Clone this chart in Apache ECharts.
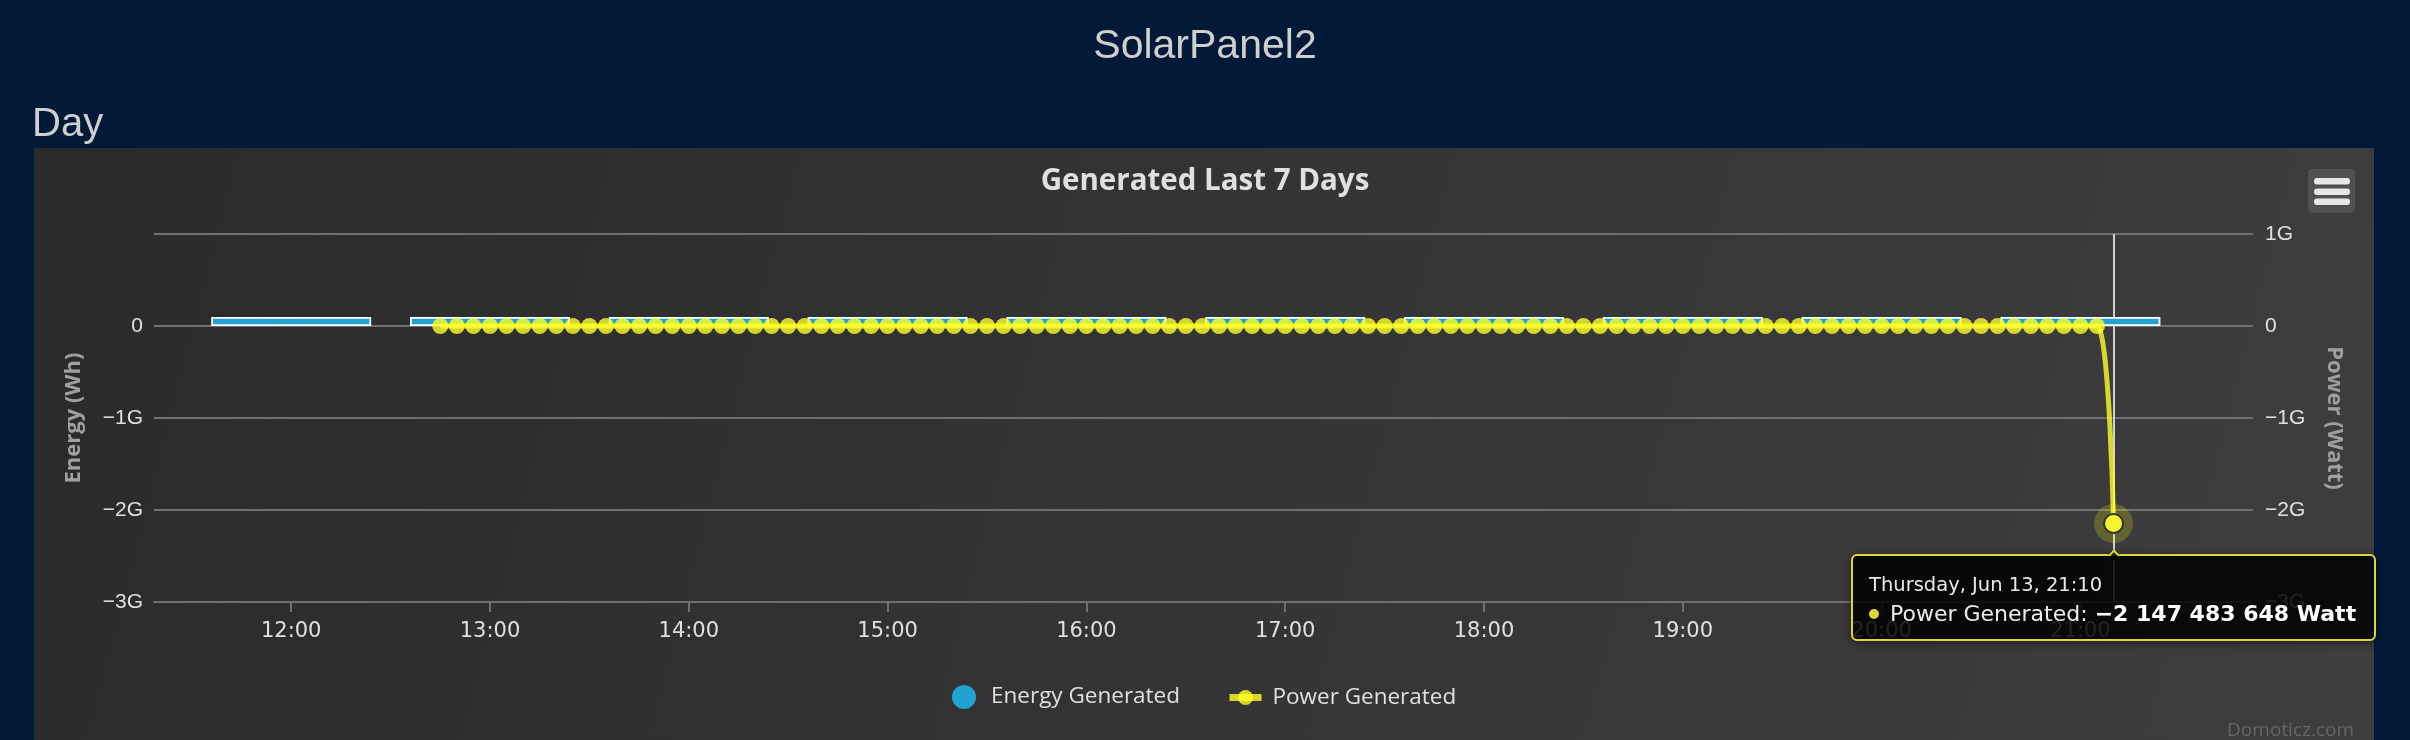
<!DOCTYPE html>
<html>
<head>
<meta charset="utf-8">
<script src="https://cdn.jsdelivr.net/npm/echarts@6/dist/echarts.min.js"></script>
<style>
html,body{margin:0;padding:0;background:#021a38;overflow:hidden;}
#c{width:2410px;height:740px;}
</style>
</head>
<body>
<div id="c"></div>
<script>
// ---------- data ----------
const DAY = [2024, 5, 13]; // Thursday, Jun 13 (2024)
const energyHours = ['12:00','13:00','14:00','15:00','16:00','17:00','18:00','19:00','20:00','21:00'];
const energyValues = [0, 0, 0, 0, 0, 0, 0, 0, 0, 0];

const powerTimes = [
  '12:45','12:50','12:55',
  '13:00','13:05','13:10','13:15','13:20','13:25','13:30','13:35','13:40','13:45','13:50','13:55',
  '14:00','14:05','14:10','14:15','14:20','14:25','14:30','14:35','14:40','14:45','14:50','14:55',
  '15:00','15:05','15:10','15:15','15:20','15:25','15:30','15:35','15:40','15:45','15:50','15:55',
  '16:00','16:05','16:10','16:15','16:20','16:25','16:30','16:35','16:40','16:45','16:50','16:55',
  '17:00','17:05','17:10','17:15','17:20','17:25','17:30','17:35','17:40','17:45','17:50','17:55',
  '18:00','18:05','18:10','18:15','18:20','18:25','18:30','18:35','18:40','18:45','18:50','18:55',
  '19:00','19:05','19:10','19:15','19:20','19:25','19:30','19:35','19:40','19:45','19:50','19:55',
  '20:00','20:05','20:10','20:15','20:20','20:25','20:30','20:35','20:40','20:45','20:50','20:55',
  '21:00','21:05','21:10'
];
const powerValues = [
  0,0,0,
  0,0,0,0,0,0,0,0,0,0,0,0,
  0,0,0,0,0,0,0,0,0,0,0,0,
  0,0,0,0,0,0,0,0,0,0,0,0,
  0,0,0,0,0,0,0,0,0,0,0,0,
  0,0,0,0,0,0,0,0,0,0,0,0,
  0,0,0,0,0,0,0,0,0,0,0,0,
  0,0,0,0,0,0,0,0,0,0,0,0,
  0,0,0,0,0,0,0,0,0,0,0,0,
  0,0,-2147483648
];
const xRange = ['11:18:36', '21:52:05'];
const yRange = [-3e9, 1e9];
const yStep = 1e9;
const hoverIndex = powerValues.length - 1;

// ---------- helpers ----------
function toTime(s) {
  const p = s.split(':').map(Number);
  return new Date(DAY[0], DAY[1], DAY[2], p[0], p[1], p[2] || 0).getTime();
}
function fmtG(v) {
  if (v === 0) return '0';
  const g = v / 1e9;
  return (g < 0 ? '\u2212' : '') + Math.abs(g) + 'G';
}
function fmtNum(v) {
  const s = Math.abs(v).toString().replace(/\B(?=(\d{3})+(?!\d))/g, ' ');
  return (v < 0 ? '\u2212' : '') + s;
}
const WEEK = ['Sunday','Monday','Tuesday','Wednesday','Thursday','Friday','Saturday'];
const MON = ['Jan','Feb','Mar','Apr','May','Jun','Jul','Aug','Sep','Oct','Nov','Dec'];

const YELLOW = 'rgba(255,255,40,0.8)';
const BLUE = '#22a1d3';

const chart = echarts.init(document.getElementById('c'), null, {renderer: 'canvas'});

const lineData = powerTimes.map(function (t, i) {
  const item = {value: [toTime(t), powerValues[i]]};
  if (i === hoverIndex) {
    item.symbolSize = 19;
    item.itemStyle = {color: '#f4f432', borderColor: '#333333', borderWidth: 2, opacity: 1};
  }
  return item;
});

const option = {
  animation: false,
  backgroundColor: '#021a38',
  title: [
    {text: 'SolarPanel2', left: 'center', top: 26, padding: 0,
     textStyle: {fontFamily: 'Liberation Sans', fontSize: 41, fontWeight: 'normal', color: '#cfcfcf'}},
    {text: 'Day', left: 32, top: 105, padding: 0,
     textStyle: {fontFamily: 'Liberation Sans', fontSize: 40, fontWeight: 'normal', color: '#cfcfcf'}},
    {text: 'Generated Last 7 Days', left: 'center', top: 167, padding: 0,
     textStyle: {fontFamily: 'Open Sans', fontSize: 29.5, fontWeight: 'bold', color: '#e0e0e3'}},
    {text: 'Domoticz.com', right: 56, top: 721, padding: 0,
     textStyle: {fontFamily: 'Open Sans', fontSize: 19, fontWeight: 'normal', color: '#666666'}}
  ],
  graphic: [
    {type: 'rect', z: -100, silent: true,
     shape: {x: 34, y: 148, width: 2340, height: 600},
     style: {fill: new echarts.graphic.LinearGradient(0, 0, 1, 1, [
       {offset: 0, color: '#2a2a2b'}, {offset: 1, color: '#3e3e40'}])}},
    {type: 'rect', silent: true, shape: {x: 2308, y: 169, width: 47, height: 44, r: 4}, style: {fill: '#505053'}},
    {type: 'rect', silent: true, shape: {x: 2314, y: 178, width: 36, height: 6.5, r: 3}, style: {fill: '#e6e6e6'}},
    {type: 'rect', silent: true, shape: {x: 2314, y: 188.5, width: 36, height: 6.5, r: 3}, style: {fill: '#e6e6e6'}},
    {type: 'rect', silent: true, shape: {x: 2314, y: 198.5, width: 36, height: 6.5, r: 3}, style: {fill: '#e6e6e6'}}
  ],
  legend: [
    {data: [{name: 'Energy Generated', icon: 'circle'}], left: 952, top: 685, padding: 0,
     itemWidth: 32, itemHeight: 24, selectedMode: false,
     itemStyle: {color: BLUE, borderWidth: 0},
     textStyle: {fontFamily: 'Open Sans', fontSize: 22.5, color: '#e0e0e3', padding: [0, 0, 0, 6]}},
    {data: ['Power Generated'], left: 1226, top: 686, padding: 0,
     itemWidth: 32, itemHeight: 19, selectedMode: false,
     lineStyle: {width: 7},
     textStyle: {fontFamily: 'Open Sans', fontSize: 22.5, color: '#e0e0e3', padding: [0, 0, 0, 6]}}
  ],
  grid: {left: 154, right: 157, top: 234, bottom: 138, outerBoundsMode: 'none', containLabel: false},
  tooltip: {
    trigger: 'item',
    triggerOn: 'none',
    alwaysShowContent: true,
    showDelay: 0,
    transitionDuration: 0,
    position: 'bottom',
    confine: false,
    backgroundColor: 'rgba(0,0,0,0.85)',
    borderColor: '#d8d832',
    borderWidth: 2,
    borderRadius: 6,
    padding: [15, 18, 10, 16],
    textStyle: {fontFamily: 'DejaVu Sans', color: '#ececec'},
    extraCssText: 'white-space:nowrap;box-shadow:0 2px 8px rgba(0,0,0,0.5);',
    formatter: function () {
      const d = new Date(toTime(powerTimes[hoverIndex]));
      const header = WEEK[d.getDay()] + ', ' + MON[d.getMonth()] + ' ' + d.getDate() + ', ' + powerTimes[hoverIndex];
      return '<div style="font-family:DejaVu Sans;font-size:19.5px;line-height:28px;color:#e8e8e8">' + header + '</div>' +
        '<div style="font-family:DejaVu Sans;font-size:22px;line-height:30px;color:#ececec">' +
        '<span style="display:inline-block;width:10px;height:10px;border-radius:5px;background:#d8d832;margin-right:11px;vertical-align:2px"></span>' +
        'Power Generated: <b style="color:#ffffff">' + fmtNum(powerValues[hoverIndex]) + ' Watt</b></div>';
    }
  },
  xAxis: [
    {
      type: 'time',
      min: toTime(xRange[0]),
      max: toTime(xRange[1]),
      minInterval: 3600 * 1000,
      maxInterval: 3600 * 1000,
      axisLine: {show: true, onZero: false, lineStyle: {color: '#707073', width: 2}},
      axisTick: {show: true, length: 10, lineStyle: {color: '#707073', width: 2}},
      splitLine: {show: false},
      axisLabel: {
        formatter: '{HH}:{mm}',
        margin: 19,
        fontFamily: 'DejaVu Sans', fontSize: 21, color: '#e0e0e3'
      }
    },
    {
      // same time range, numeric, used only to place the hourly bars without extent padding
      type: 'value', show: false, position: 'bottom',
      min: toTime(xRange[0]),
      max: toTime(xRange[1]),
      axisLine: {show: false, onZero: false},
      axisTick: {show: false},
      axisLabel: {show: false},
      splitLine: {show: false}
    }
  ],
  yAxis: [
    {
      type: 'value', position: 'left', min: yRange[0], max: yRange[1], interval: yStep,
      name: 'Energy (Wh)', nameLocation: 'middle', nameGap: 69, nameRotate: 90,
      nameTextStyle: {fontFamily: 'Open Sans', fontSize: 22, fontWeight: 'bold', color: '#a0a0a3'},
      axisLine: {show: false}, axisTick: {show: false},
      splitLine: {show: true, lineStyle: {color: '#707073', width: 2}},
      axisLabel: {formatter: fmtG, margin: 11, showMaxLabel: false,
                  fontFamily: 'Liberation Sans', fontSize: 21, color: '#e0e0e3'}
    },
    {
      type: 'value', position: 'right', min: yRange[0], max: yRange[1], interval: yStep,
      name: 'Power (Watt)', nameLocation: 'middle', nameGap: 70, nameRotate: -90,
      nameTextStyle: {fontFamily: 'Open Sans', fontSize: 22, fontWeight: 'bold', color: '#a0a0a3'},
      axisLine: {show: false}, axisTick: {show: false},
      splitLine: {show: false},
      axisLabel: {formatter: fmtG, margin: 12, fontFamily: 'Liberation Sans', fontSize: 21, color: '#e0e0e3'}
    }
  ],
  series: [
    {
      name: 'Energy Generated', type: 'bar', xAxisIndex: 1, yAxisIndex: 0, z: 2,
      data: energyHours.map(function (h, i) { return [toTime(h), energyValues[i]]; }),
      barWidth: 160, barMinHeight: 9,
      itemStyle: {color: BLUE, borderColor: '#ffffff', borderWidth: 1.8},
      emphasis: {disabled: true},
      markLine: {
        silent: true, z: 1, symbol: ['none', 'none'], label: {show: false},
        lineStyle: {color: '#d0d0d0', width: 2, type: 'solid'},
        emphasis: {disabled: true},
        data: [{xAxis: toTime(powerTimes[hoverIndex])}]
      }
    },
    {
      name: 'hover', type: 'scatter', xAxisIndex: 0, yAxisIndex: 1, z: 3,
      data: [[toTime(powerTimes[hoverIndex]), powerValues[hoverIndex]]],
      symbolSize: 39,
      itemStyle: {color: 'rgba(255,255,0,0.25)'},
      emphasis: {disabled: true}
    },
    {
      name: 'Power Generated', type: 'line', xAxisIndex: 0, yAxisIndex: 1, z: 4,
      data: lineData,
      smooth: 0.4,
      symbol: 'circle', symbolSize: 16, showSymbol: true, showAllSymbol: true,
      lineStyle: {color: YELLOW, width: 5},
      itemStyle: {color: YELLOW},
      emphasis: {disabled: true}
    }
  ]
};

chart.setOption(option);
chart.dispatchAction({type: 'showTip', seriesIndex: 1, dataIndex: 0});
</script>
</body>
</html>
